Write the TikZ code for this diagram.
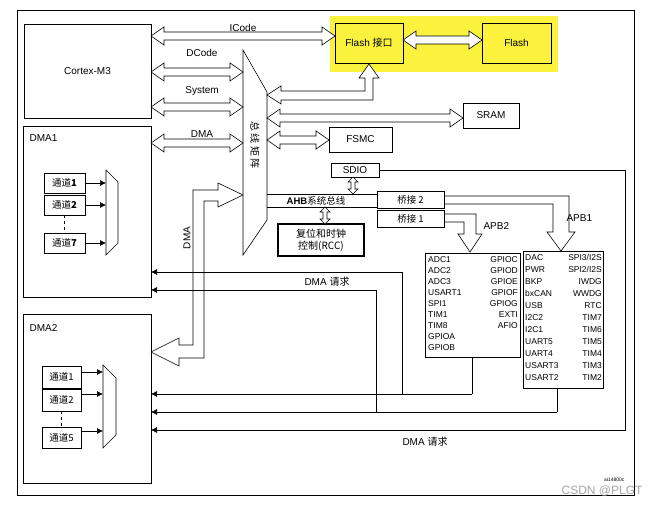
\documentclass[tikz,border=0pt]{standalone}
\usepackage{fontspec}
\setmainfont{Liberation Sans}
\newfontfamily\cjk{Noto Sans CJK SC}
\usetikzlibrary{arrows.meta}
\definecolor{hl}{RGB}{250,242,60}
\newcommand\harr[3]{\draw[hol] (#1,#3) -- ++(13,-9) -- ++(0,5) -- (#2-13,#3-4) -- ++(0,-5) -- (#2,#3) -- (#2-13,#3+9) -- ++(0,-5) -- (#1+13,#3+4) -- ++(0,5) -- cycle;}
\newcommand\varr[3]{\draw[hol] (#1,#2) -- (#1+5,#2+5) -- (#1+2,#2+5) -- (#1+2,#3-5) -- (#1+5,#3-5) -- (#1,#3) -- (#1-5,#3-5) -- (#1-2,#3-5) -- (#1-2,#2+5) -- (#1-5,#2+5) -- cycle;}
\begin{document}
\begin{tikzpicture}[x=1pt,y=-1pt,
  box/.style={draw,line width=0.6pt,inner sep=0pt},
  hol/.style={draw,line width=0.6pt,fill=white},
  ln/.style={line width=0.6pt},
  req/.style={line width=0.6pt,-{Latex[length=6pt,width=6pt]}},
  lab/.style={font=\fontsize{10}{11}\selectfont},
  sm/.style={font=\fontsize{8.5}{11}\selectfont,align=left,anchor=north west,inner sep=0pt}]
\useasboundingbox (0,0) rectangle (648,505);
\fill[white] (0,0) rectangle (648,505);
\draw[line width=1pt] (17,11) rectangle (634,495);
\fill[hl] (330,16) rectangle (558,72);
% boxes
\node[box,minimum width=127pt,minimum height=94pt] (cm3) at (87.5,71) {\fontsize{10}{11}\selectfont Cortex-M3};
\draw[ln] (23,126) rectangle (151,297); \node[lab,anchor=west] (d1) at (26,138) {DMA1};
\draw[ln] (23,314) rectangle (151,483); \node[lab,anchor=west] (d2) at (26,328) {DMA2};
\node[box,minimum width=68pt,minimum height=40pt] (fi) at (369,43) {\fontsize{10}{11}\selectfont Flash {\cjk 接口}};
\node[box,minimum width=69pt,minimum height=40pt] (fl) at (516.5,43) {\fontsize{10}{11}\selectfont Flash};
\node[box,minimum width=56pt,minimum height=25pt] (sram) at (491,115.5) {\fontsize{10}{11}\selectfont SRAM};
\node[box,minimum width=63pt,minimum height=25pt] (fsmc) at (360.5,139.5) {\fontsize{10}{11}\selectfont FSMC};
\node[box,minimum width=48pt,minimum height=14pt] (sdio) at (355,170) {\fontsize{10}{11}\selectfont SDIO};
\node[draw,line width=1.2pt,minimum width=86pt,minimum height=32pt,align=center,font=\cjk\fontsize{10}{12}\selectfont] (rcc) at (321,240) {复位和时钟\\控制(RCC)};
\node[box,minimum width=67pt,minimum height=17pt,font=\cjk\fontsize{9.5}{10}\selectfont] (b2) at (410.5,199.5) {桥接 2};
\node[box,minimum width=67pt,minimum height=17pt,font=\cjk\fontsize{9.5}{10}\selectfont] (b1) at (410.5,218.5) {桥接 1};
% bus matrix
\draw[ln,fill=white] (243,50) -- (267,92) -- (267,220) -- (243,255) -- cycle;
\node[rotate=-90,font=\cjk\fontsize{10}{11}\selectfont] (bm) at (255,145) {总\ 线\ 矩\ 阵};
% hollow arrows
\harr{151}{335}{36}
\node[lab] (ic) at (243,28) {ICode};
\harr{151}{243}{72}\node[lab] (dc) at (202,53) {DCode};
\harr{151}{243}{107}\node[lab] (sy) at (202,91) {System};
\harr{151}{243}{143}\node[lab] (dm) at (202,134) {DMA};
\harr{267}{463}{118}
\harr{267}{329}{140}
\harr{403}{482}{40}
\draw[hol] (267,95) -- (281,86) -- (281,91) -- (365,91) -- (365,78) -- (359,78) -- (369,64) -- (379,78) -- (373,78) -- (373,100) -- (281,100) -- (281,104) -- cycle;
\draw[hol] (243,195) -- (218,183) -- (218,190) -- (193,190) -- (193,345) -- (179,345) -- (179,338) -- (151,352) -- (179,366) -- (179,358) -- (204,358) -- (204,201) -- (218,201) -- (218,207) -- cycle;
\node[rotate=90,lab] (dmav) at (187,238) {DMA};
\varr{353}{177}{194}
\varr{325}{207}{224}
% AHB
\draw[ln] (267,194) -- (377,194) (267,207) -- (377,207);
\node[font=\fontsize{9.5}{10}\selectfont] (ahb) at (316,201) {\textbf{AHB}{\cjk 系统总线}};
\draw[ln] (444,196) -- (569,196) -- (569,232) -- (575,232) -- (561,251) -- (547,232) -- (553,232) -- (553,204) -- (444,204);
\draw[ln] (444,214) -- (476,214) -- (476,234) -- (482,234) -- (470,252) -- (458,234) -- (464,234) -- (464,222) -- (444,222);
\node[lab,anchor=west] (apb1) at (563,218) {APB1};
\node[lab,anchor=west] (apb2) at (480,226) {APB2};
% APB boxes
\draw[ln] (425,253) rectangle (520,357);
\node[sm] (l2) at (428,256) {ADC1\\ADC2\\ADC3\\USART1\\SPI1\\TIM1\\TIM8\\GPIOA\\GPIOB};
\node[sm,align=right,anchor=north east] (r2) at (518,256) {GPIOC\\GPIOD\\GPIOE\\GPIOF\\GPIOG\\EXTI\\AFIO};
\draw[ln] (523,251) rectangle (603,388);
\node[sm,font=\fontsize{8.5}{12}\selectfont] (l1) at (525,254) {DAC\\PWR\\BKP\\bxCAN\\USB\\I2C2\\I2C1\\UART5\\UART4\\USART3\\USART2};
\node[sm,font=\fontsize{8.5}{12}\selectfont,align=right,anchor=north east] (r1) at (602,254) {SPI3/I2S\\SPI2/I2S\\IWDG\\WWDG\\RTC\\TIM7\\TIM6\\TIM5\\TIM4\\TIM3\\TIM2};
% DMA request lines
\draw[ln] (472,357) -- (472,394);
\draw[req] (472,394) -- (151,394);
\draw[req] (402,394) -- (402,272) -- (151,272);
\draw[ln] (557,388) -- (557,412);
\draw[req] (557,412) -- (151,412);
\draw[req] (376,412) -- (376,290) -- (151,290);
\draw[req] (379,170) -- (625,170) -- (625,430) -- (151,430);
\node[lab] (rq1) at (327,282) {DMA {\cjk 请求}};
\node[lab] (rq2) at (425,442) {DMA {\cjk 请求}};
% DMA1 channels
\tikzset{ch/.style={box,minimum width=41pt,minimum height=20pt,font=\cjk\fontsize{9.5}{10}\selectfont}}
\node[ch] (a1) at (64.5,183) {通道\textbf{1}};
\node[ch] (a2) at (64.5,205) {通道\textbf{2}};
\node[ch] (a7) at (64.5,243) {通道\textbf{7}};
\draw[ln,dashed] (a2.south) -- (a7.north);
\draw[ln] (106,170) -- (118,182) -- (118,243) -- (106,255) -- cycle;
\foreach \n in {a1,a2,a7} \draw[req] (\n.east) -- (\n.east-|106,0);
\node[ch,minimum width=39pt,minimum height=22pt] (c1) at (61.5,377) {通道1};
\node[ch,minimum width=39pt,minimum height=22pt] (c2) at (61.5,400) {通道2};
\node[ch,minimum width=39pt,minimum height=21pt] (c5) at (61.5,437.5) {通道5};
\draw[ln,dashed] (c2.south) -- (c5.north);
\draw[ln] (103,365) -- (116,378) -- (116,435) -- (103,448) -- cycle;
\draw[req] (81,372) -- (103,372);
\draw[req] (81,394) -- (103,394);
\draw[req] (81,431) -- (103,431);
\node[font=\fontsize{5}{6}\selectfont,anchor=east] (ai) at (628,480) {ai14800c};
\node[font=\fontsize{12}{12}\selectfont,text=black!35,anchor=east] (wm) at (646,491) {CSDN @PLGT};
\end{tikzpicture}
\end{document}
